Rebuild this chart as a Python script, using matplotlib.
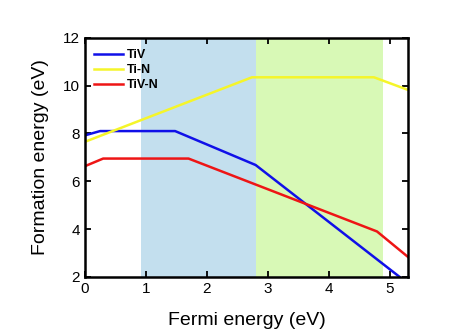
import numpy as np
import matplotlib.pyplot as plt

plt.rcParams['font.family'] = ['Liberation Sans', 'DejaVu Sans']

# data
tiv_x = [0, 0.25, 1.48, 2.8, 5.16]
tiv_y = [7.92, 8.1, 8.1, 6.68, 2.0]
tin_x = [0, 2.74, 4.74, 5.3]
tin_y = [7.65, 10.35, 10.35, 9.82]
tivn_x = [0, 0.3, 1.7, 4.79, 5.3]
tivn_y = [6.63, 6.95, 6.95, 3.9, 2.83]

blue_band = (0.92, 2.8)
green_band = (2.8, 4.89)

fig = plt.figure(figsize=(4.74, 3.32), dpi=100)
ax = fig.add_axes([0.179, 0.166, 0.682, 0.72])

ax.axvspan(*blue_band, color='#c3dfee', lw=0, zorder=0)
ax.axvspan(*green_band, color='#d8f9b6', lw=0, zorder=0)

ax.plot(tiv_x, tiv_y, color='#1010e8', lw=1.8, label='TiV')
ax.plot(tin_x, tin_y, color='#f5f52a', lw=1.8, label='Ti-N')
ax.plot(tivn_x, tivn_y, color='#ee1515', lw=1.8, label='TiV-N')

ax.set_xlim(0, 5.3)
ax.set_ylim(2, 12)
ax.set_xticks([0, 1, 2, 3, 4, 5])
ax.set_yticks([2, 4, 6, 8, 10, 12])
ax.tick_params(direction='in', top=True, right=True, length=4, width=1.3,
               labelsize=11)
for s in ax.spines.values():
    s.set_linewidth(1.8)

ax.set_xlabel('Fermi energy (eV)', fontsize=14, labelpad=12)
ax.set_ylabel('Formation energy (eV)', fontsize=14, labelpad=10)

ax.legend(loc='upper left', bbox_to_anchor=(0.028, 0.953), frameon=False,
          handlelength=2.3, handletextpad=0.3, borderaxespad=0, borderpad=0,
          labelspacing=0.25, prop={'weight': 'bold', 'size': 9})

fig.savefig('out.png', dpi=100)
